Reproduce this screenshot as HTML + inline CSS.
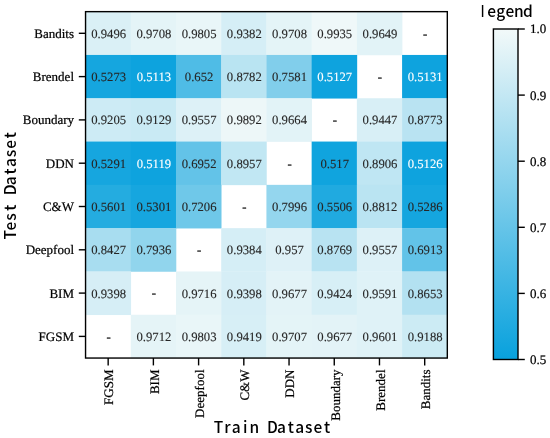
<!DOCTYPE html>
<html><head><meta charset="utf-8"><style>
html,body{margin:0;padding:0;background:#fff;overflow:hidden;width:550px;height:438px;}
svg{display:block;}
.s{font-family:"Liberation Serif","Times New Roman",serif;text-rendering:geometricPrecision;stroke-width:0.1px;}
</style></head><body>
<svg width="550" height="438" viewBox="0 0 550 438">
<defs><linearGradient id="cb" x1="0" y1="1" x2="0" y2="0">
<stop offset="0" stop-color="#08a1dd"/><stop offset="1" stop-color="#f2f9f9"/>
</linearGradient></defs>

<rect x="85.55" y="11.65" width="45.52" height="43.60" fill="#daf0f6"/>
<rect x="130.77" y="11.65" width="45.52" height="43.60" fill="#e4f4f7"/>
<rect x="175.99" y="11.65" width="45.52" height="43.60" fill="#e9f6f8"/>
<rect x="221.21" y="11.65" width="45.52" height="43.60" fill="#d5eef6"/>
<rect x="266.43" y="11.65" width="45.52" height="43.60" fill="#e4f4f7"/>
<rect x="311.65" y="11.65" width="45.52" height="43.60" fill="#eff8f9"/>
<rect x="356.87" y="11.65" width="45.52" height="43.60" fill="#e2f3f7"/>
<rect x="85.55" y="54.95" width="45.52" height="43.60" fill="#15a6df"/>
<rect x="130.77" y="54.95" width="45.52" height="43.60" fill="#0da3de"/>
<rect x="175.99" y="54.95" width="45.52" height="43.60" fill="#4fbce6"/>
<rect x="221.21" y="54.95" width="45.52" height="43.60" fill="#b9e4f2"/>
<rect x="266.43" y="54.95" width="45.52" height="43.60" fill="#81ceeb"/>
<rect x="311.65" y="54.95" width="45.52" height="43.60" fill="#0ea3de"/>
<rect x="402.09" y="54.95" width="45.52" height="43.60" fill="#0ea3de"/>
<rect x="85.55" y="98.25" width="45.52" height="43.60" fill="#cdebf5"/>
<rect x="130.77" y="98.25" width="45.52" height="43.60" fill="#c9eaf4"/>
<rect x="175.99" y="98.25" width="45.52" height="43.60" fill="#ddf1f7"/>
<rect x="221.21" y="98.25" width="45.52" height="43.60" fill="#edf7f8"/>
<rect x="266.43" y="98.25" width="45.52" height="43.60" fill="#e2f3f7"/>
<rect x="356.87" y="98.25" width="45.52" height="43.60" fill="#d8eff6"/>
<rect x="402.09" y="98.25" width="45.52" height="43.60" fill="#b9e3f2"/>
<rect x="85.55" y="141.55" width="45.52" height="43.60" fill="#16a6df"/>
<rect x="130.77" y="141.55" width="45.52" height="43.60" fill="#0ea3de"/>
<rect x="175.99" y="141.55" width="45.52" height="43.60" fill="#63c3e8"/>
<rect x="221.21" y="141.55" width="45.52" height="43.60" fill="#c1e7f3"/>
<rect x="311.65" y="141.55" width="45.52" height="43.60" fill="#10a4de"/>
<rect x="356.87" y="141.55" width="45.52" height="43.60" fill="#bfe6f3"/>
<rect x="402.09" y="141.55" width="45.52" height="43.60" fill="#0ea3de"/>
<rect x="85.55" y="184.85" width="45.52" height="43.60" fill="#24ace0"/>
<rect x="130.77" y="184.85" width="45.52" height="43.60" fill="#16a6df"/>
<rect x="175.99" y="184.85" width="45.52" height="43.60" fill="#6fc8e9"/>
<rect x="266.43" y="184.85" width="45.52" height="43.60" fill="#94d6ee"/>
<rect x="311.65" y="184.85" width="45.52" height="43.60" fill="#20aae0"/>
<rect x="356.87" y="184.85" width="45.52" height="43.60" fill="#bae4f2"/>
<rect x="402.09" y="184.85" width="45.52" height="43.60" fill="#15a6df"/>
<rect x="85.55" y="228.15" width="45.52" height="43.60" fill="#a8ddf0"/>
<rect x="130.77" y="228.15" width="45.52" height="43.60" fill="#91d5ed"/>
<rect x="221.21" y="228.15" width="45.52" height="43.60" fill="#d5eef6"/>
<rect x="266.43" y="228.15" width="45.52" height="43.60" fill="#def1f7"/>
<rect x="311.65" y="228.15" width="45.52" height="43.60" fill="#b8e3f2"/>
<rect x="356.87" y="228.15" width="45.52" height="43.60" fill="#ddf1f7"/>
<rect x="402.09" y="228.15" width="45.52" height="43.60" fill="#62c3e8"/>
<rect x="85.55" y="271.45" width="45.52" height="43.60" fill="#d6eef6"/>
<rect x="175.99" y="271.45" width="45.52" height="43.60" fill="#e5f4f7"/>
<rect x="221.21" y="271.45" width="45.52" height="43.60" fill="#d6eef6"/>
<rect x="266.43" y="271.45" width="45.52" height="43.60" fill="#e3f3f7"/>
<rect x="311.65" y="271.45" width="45.52" height="43.60" fill="#d7eff6"/>
<rect x="356.87" y="271.45" width="45.52" height="43.60" fill="#dff2f7"/>
<rect x="402.09" y="271.45" width="45.52" height="43.60" fill="#b3e1f1"/>
<rect x="130.77" y="314.75" width="45.52" height="43.60" fill="#e5f4f7"/>
<rect x="175.99" y="314.75" width="45.52" height="43.60" fill="#e9f6f8"/>
<rect x="221.21" y="314.75" width="45.52" height="43.60" fill="#d7eff6"/>
<rect x="266.43" y="314.75" width="45.52" height="43.60" fill="#e4f4f7"/>
<rect x="311.65" y="314.75" width="45.52" height="43.60" fill="#e3f3f7"/>
<rect x="356.87" y="314.75" width="45.52" height="43.60" fill="#dff2f7"/>
<rect x="402.09" y="314.75" width="45.52" height="43.60" fill="#ccebf4"/>
<g class="s" font-size="12.7" text-anchor="middle">
<text x="108.66" y="37.80" fill="#262626" stroke="#262626">0.9496</text>
<text x="153.88" y="37.80" fill="#262626" stroke="#262626">0.9708</text>
<text x="199.10" y="37.80" fill="#262626" stroke="#262626">0.9805</text>
<text x="244.32" y="37.80" fill="#262626" stroke="#262626">0.9382</text>
<text x="289.54" y="37.80" fill="#262626" stroke="#262626">0.9708</text>
<text x="334.76" y="37.80" fill="#262626" stroke="#262626">0.9935</text>
<text x="379.98" y="37.80" fill="#262626" stroke="#262626">0.9649</text>
<text x="425.20" y="37.60" fill="#262626" stroke="#262626" style="stroke-width:0.3px">-</text>
<text x="108.66" y="81.10" fill="#262626" stroke="#262626">0.5273</text>
<text x="153.88" y="81.10" fill="#ffffff" stroke="#ffffff">0.5113</text>
<text x="199.10" y="81.10" fill="#262626" stroke="#262626">0.652</text>
<text x="244.32" y="81.10" fill="#262626" stroke="#262626">0.8782</text>
<text x="289.54" y="81.10" fill="#262626" stroke="#262626">0.7581</text>
<text x="334.76" y="81.10" fill="#ffffff" stroke="#ffffff">0.5127</text>
<text x="379.98" y="80.90" fill="#262626" stroke="#262626" style="stroke-width:0.3px">-</text>
<text x="425.20" y="81.10" fill="#ffffff" stroke="#ffffff">0.5131</text>
<text x="108.66" y="124.40" fill="#262626" stroke="#262626">0.9205</text>
<text x="153.88" y="124.40" fill="#262626" stroke="#262626">0.9129</text>
<text x="199.10" y="124.40" fill="#262626" stroke="#262626">0.9557</text>
<text x="244.32" y="124.40" fill="#262626" stroke="#262626">0.9892</text>
<text x="289.54" y="124.40" fill="#262626" stroke="#262626">0.9664</text>
<text x="334.76" y="124.20" fill="#262626" stroke="#262626" style="stroke-width:0.3px">-</text>
<text x="379.98" y="124.40" fill="#262626" stroke="#262626">0.9447</text>
<text x="425.20" y="124.40" fill="#262626" stroke="#262626">0.8773</text>
<text x="108.66" y="167.70" fill="#262626" stroke="#262626">0.5291</text>
<text x="153.88" y="167.70" fill="#ffffff" stroke="#ffffff">0.5119</text>
<text x="199.10" y="167.70" fill="#262626" stroke="#262626">0.6952</text>
<text x="244.32" y="167.70" fill="#262626" stroke="#262626">0.8957</text>
<text x="289.54" y="167.50" fill="#262626" stroke="#262626" style="stroke-width:0.3px">-</text>
<text x="334.76" y="167.70" fill="#262626" stroke="#262626">0.517</text>
<text x="379.98" y="167.70" fill="#262626" stroke="#262626">0.8906</text>
<text x="425.20" y="167.70" fill="#ffffff" stroke="#ffffff">0.5126</text>
<text x="108.66" y="211.00" fill="#262626" stroke="#262626">0.5601</text>
<text x="153.88" y="211.00" fill="#262626" stroke="#262626">0.5301</text>
<text x="199.10" y="211.00" fill="#262626" stroke="#262626">0.7206</text>
<text x="244.32" y="210.80" fill="#262626" stroke="#262626" style="stroke-width:0.3px">-</text>
<text x="289.54" y="211.00" fill="#262626" stroke="#262626">0.7996</text>
<text x="334.76" y="211.00" fill="#262626" stroke="#262626">0.5506</text>
<text x="379.98" y="211.00" fill="#262626" stroke="#262626">0.8812</text>
<text x="425.20" y="211.00" fill="#262626" stroke="#262626">0.5286</text>
<text x="108.66" y="254.30" fill="#262626" stroke="#262626">0.8427</text>
<text x="153.88" y="254.30" fill="#262626" stroke="#262626">0.7936</text>
<text x="199.10" y="254.10" fill="#262626" stroke="#262626" style="stroke-width:0.3px">-</text>
<text x="244.32" y="254.30" fill="#262626" stroke="#262626">0.9384</text>
<text x="289.54" y="254.30" fill="#262626" stroke="#262626">0.957</text>
<text x="334.76" y="254.30" fill="#262626" stroke="#262626">0.8769</text>
<text x="379.98" y="254.30" fill="#262626" stroke="#262626">0.9557</text>
<text x="425.20" y="254.30" fill="#262626" stroke="#262626">0.6913</text>
<text x="108.66" y="297.60" fill="#262626" stroke="#262626">0.9398</text>
<text x="153.88" y="297.40" fill="#262626" stroke="#262626" style="stroke-width:0.3px">-</text>
<text x="199.10" y="297.60" fill="#262626" stroke="#262626">0.9716</text>
<text x="244.32" y="297.60" fill="#262626" stroke="#262626">0.9398</text>
<text x="289.54" y="297.60" fill="#262626" stroke="#262626">0.9677</text>
<text x="334.76" y="297.60" fill="#262626" stroke="#262626">0.9424</text>
<text x="379.98" y="297.60" fill="#262626" stroke="#262626">0.9591</text>
<text x="425.20" y="297.60" fill="#262626" stroke="#262626">0.8653</text>
<text x="108.66" y="340.70" fill="#262626" stroke="#262626" style="stroke-width:0.3px">-</text>
<text x="153.88" y="340.90" fill="#262626" stroke="#262626">0.9712</text>
<text x="199.10" y="340.90" fill="#262626" stroke="#262626">0.9803</text>
<text x="244.32" y="340.90" fill="#262626" stroke="#262626">0.9419</text>
<text x="289.54" y="340.90" fill="#262626" stroke="#262626">0.9707</text>
<text x="334.76" y="340.90" fill="#262626" stroke="#262626">0.9677</text>
<text x="379.98" y="340.90" fill="#262626" stroke="#262626">0.9601</text>
<text x="425.20" y="340.90" fill="#262626" stroke="#262626">0.9188</text>
</g>
<rect x="85.55" y="11.65" width="361.76" height="346.40" fill="none" stroke="#000" stroke-width="1.4"/>
<g stroke="#000" stroke-width="1.4">
<line x1="78.80" y1="33.30" x2="85.55" y2="33.30"/>
<line x1="78.80" y1="76.60" x2="85.55" y2="76.60"/>
<line x1="78.80" y1="119.90" x2="85.55" y2="119.90"/>
<line x1="78.80" y1="163.20" x2="85.55" y2="163.20"/>
<line x1="78.80" y1="206.50" x2="85.55" y2="206.50"/>
<line x1="78.80" y1="249.80" x2="85.55" y2="249.80"/>
<line x1="78.80" y1="293.10" x2="85.55" y2="293.10"/>
<line x1="78.80" y1="336.40" x2="85.55" y2="336.40"/>
<line x1="108.16" y1="358.05" x2="108.16" y2="365.40"/>
<line x1="153.38" y1="358.05" x2="153.38" y2="365.40"/>
<line x1="198.60" y1="358.05" x2="198.60" y2="365.40"/>
<line x1="243.82" y1="358.05" x2="243.82" y2="365.40"/>
<line x1="289.04" y1="358.05" x2="289.04" y2="365.40"/>
<line x1="334.26" y1="358.05" x2="334.26" y2="365.40"/>
<line x1="379.48" y1="358.05" x2="379.48" y2="365.40"/>
<line x1="424.70" y1="358.05" x2="424.70" y2="365.40"/>
</g>
<g class="s" font-size="13" fill="#000" stroke="#000" style="stroke-width:0.22px">
<text x="74" y="37.70" text-anchor="end">Bandits</text>
<text x="74" y="81.00" text-anchor="end">Brendel</text>
<text x="74" y="124.30" text-anchor="end">Boundary</text>
<text x="74" y="167.60" text-anchor="end">DDN</text>
<text x="74" y="210.90" text-anchor="end">C&amp;W</text>
<text x="74" y="254.20" text-anchor="end">Deepfool</text>
<text x="74" y="297.50" text-anchor="end">BIM</text>
<text x="74" y="340.80" text-anchor="end">FGSM</text>
<text transform="translate(113.46,369.5) rotate(-90)" text-anchor="end">FGSM</text>
<text transform="translate(158.68,369.5) rotate(-90)" text-anchor="end">BIM</text>
<text transform="translate(203.90,369.5) rotate(-90)" text-anchor="end">Deepfool</text>
<text transform="translate(249.12,369.5) rotate(-90)" text-anchor="end">C&amp;W</text>
<text transform="translate(294.34,369.5) rotate(-90)" text-anchor="end">DDN</text>
<text transform="translate(339.56,369.5) rotate(-90)" text-anchor="end">Boundary</text>
<text transform="translate(384.78,369.5) rotate(-90)" text-anchor="end">Brendel</text>
<text transform="translate(430.00,369.5) rotate(-90)" text-anchor="end">Bandits</text>
</g>
<rect x="493.40" y="29.00" width="24.60" height="330.50" fill="url(#cb)" stroke="#000" stroke-width="1.4"/>
<g stroke="#000" stroke-width="1.4">
<line x1="518.00" y1="359.50" x2="524.8" y2="359.50"/>
<line x1="518.00" y1="293.40" x2="524.8" y2="293.40"/>
<line x1="518.00" y1="227.30" x2="524.8" y2="227.30"/>
<line x1="518.00" y1="161.20" x2="524.8" y2="161.20"/>
<line x1="518.00" y1="95.10" x2="524.8" y2="95.10"/>
<line x1="518.00" y1="29.00" x2="524.8" y2="29.00"/>
</g><g class="s" font-size="13" fill="#000" stroke="#000" style="stroke-width:0.22px">
<text x="530" y="363.90">0.5</text>
<text x="530" y="297.80">0.6</text>
<text x="530" y="231.70">0.7</text>
<text x="530" y="165.60">0.8</text>
<text x="530" y="99.50">0.9</text>
<text x="530" y="33.40">1.0</text>
</g>
<text x="213.69 224.14 231.71 243.00 249.47 261.64 267.03 277.06 287.70 295.20 305.01 313.50 323.99" y="433.28" fill="#000" style="font-family:&quot;Noto Sans CJK SC&quot;,sans-serif;font-size:15.5px;font-weight:500">Train Dataset</text>
<text transform="translate(15.98,239.70) rotate(-90)" x="0.19 9.30 18.95 28.86 39.06 44.45 54.50 65.14 72.64 82.44 90.93 101.42" y="0" fill="#000" style="font-family:&quot;Noto Sans CJK SC&quot;,sans-serif;font-size:15.5px;font-weight:500">Test Dataset</text>
<text x="480.70 487.30 496.32 505.44 513.97 523.00" y="17.18" fill="#000" style="font-family:&quot;Noto Sans CJK SC&quot;,sans-serif;font-size:15.5px;font-weight:500"><tspan style="font-family:&quot;Liberation Sans&quot;,sans-serif;font-size:16.5px">l</tspan>egend</text>
</svg>
</body></html>
